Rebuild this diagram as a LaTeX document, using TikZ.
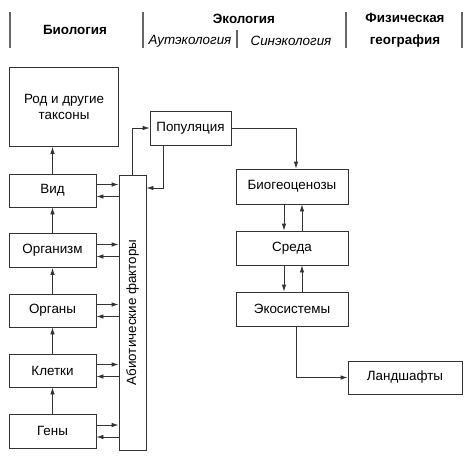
\documentclass[tikz,border=0pt]{standalone}
\usepackage{fontspec}
\setmainfont{Liberation Sans}
\usetikzlibrary{calc,arrows.meta}

\tikzset{
  box/.style={draw=black!80,line width=0.8pt,minimum width=87pt,minimum height=33pt,inner sep=2pt,align=center,font=\fontsize{13.4}{16}\selectfont},
  arr/.style={line width=0.8pt,draw=black!80,-{Latex[length=7pt,width=4.5pt]}},
  sep/.style={line width=1.2pt,draw=black!60},
  head/.style={font=\fontsize{13.4}{15}\selectfont\bfseries,align=center},
  subhead/.style={font=\fontsize{13.4}{15}\selectfont\itshape}
}

\begin{document}
\begin{tikzpicture}[x=1pt,y=-1pt]
\useasboundingbox (0,0) rectangle (474,459);
% header
\foreach \x in {10,143,346,462}
  \draw[sep] (\x,12) -- (\x,48);
\draw[sep] (237,30) -- (237,48);
\node[head] (hbio) at (75,30) {Биология};
\node[head] (heko) at (244,19) {Экология};
\node[subhead] (haut) at (190,41) {Аутэкология};
\node[subhead] (hsin) at (291,41) {Синэкология};
\node[head,font=\fontsize{13.4}{22}\selectfont\bfseries] (hgeo) at (405,30) {Физическая\\география};

% left column
\node[box,minimum width=109pt,minimum height=79pt] (rod) at (64,107) {Род и другие\\таксоны};
\node[box] (vid) at (52.5,190.5) {Вид};
\node[box,minimum height=34pt] (org) at (52.5,250.5) {Организм};
\node[box] (organy) at (52.5,310.5) {Органы};
\node[box] (kletki) at (52.5,370.5) {Клетки};
\node[box,minimum height=34pt] (geny) at (52.5,431) {Гены};
\node[box,minimum width=275pt,minimum height=27pt,rotate=90] (abio) at (132.5,312.5) {Абиотические факторы};

% right column
\node[box,minimum width=81pt,minimum height=34pt] (pop) at (190.5,128) {Популяция};
\node[box,minimum width=112pt,minimum height=35pt] (bio) at (292,186.5) {Биогеоценозы};
\node[box,minimum width=112pt,minimum height=34pt] (sreda) at (292,248) {Среда};
\node[box,minimum width=112pt,minimum height=34pt] (eko) at (292,309) {Экосистемы};
\node[box,minimum width=114pt] (land) at (405,377.5) {Ландшафты};

% upward chain
\draw[arr] (vid.north) -- (vid.north |- rod.south);
\draw[arr] (org) -- (vid);
\draw[arr] (organy) -- (org);
\draw[arr] (kletki) -- (organy);
\draw[arr] (geny) -- (kletki);

% links with the factors (bar is rotated: north = left side, south = right side)
\foreach \n in {vid,org,organy,kletki,geny}{
  \draw[arr] ($(\n.east)+(0,-6)$) -- ($(\n.east -| abio.north)+(0,-6)$);
  \draw[arr] ($(\n.east -| abio.north)+(0,6)$) -- ($(\n.east)+(0,6)$);
}
\draw[arr] (abio.east) |- (pop.west);
\coordinate (popdn) at (163,188);
\draw[arr] (pop.south -| popdn) -- (popdn) -- (popdn -| abio.south);

% ecology chain
\draw[arr] (pop.east) -| ([xshift=4pt]bio.north);
\draw[arr] ([xshift=-8pt]bio.south) -- ([xshift=-8pt]sreda.north);
\draw[arr] ([xshift=10pt]sreda.north) -- ([xshift=10pt]bio.south);
\draw[arr] ([xshift=-8pt]sreda.south) -- ([xshift=-8pt]eko.north);
\draw[arr] ([xshift=10pt]eko.north) -- ([xshift=10pt]sreda.south);
\draw[arr] ([xshift=4pt]eko.south) |- (land.west);
\end{tikzpicture}
\end{document}
